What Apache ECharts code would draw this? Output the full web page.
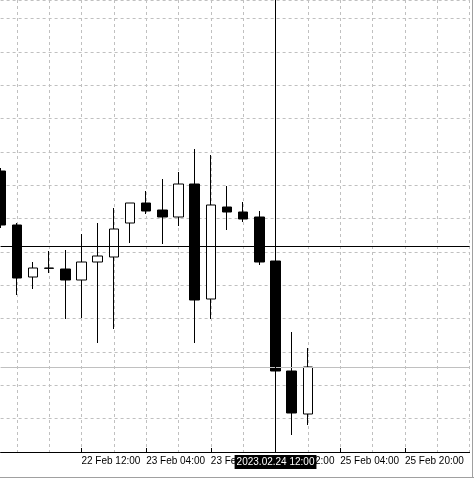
<!DOCTYPE html>
<html><head><meta charset="utf-8">
<script src="https://cdn.jsdelivr.net/npm/echarts@6/dist/echarts.min.js"></script>
<style>html,body{margin:0;padding:0;background:#fff}#c{width:474px;height:482px}</style>
</head><body><div id="c"></div>
<script>
// categories: 4-hour bars starting 21 Feb 16:00 2023 (index 0)
const months = ['Jan','Feb','Mar'];
const categories = [];
for (let k = 0; k < 30; k++) {
  const d = new Date(Date.UTC(2023, 1, 21, 16, 0) + k * 4 * 3600 * 1000);
  const hh = String(d.getUTCHours()).padStart(2, '0');
  categories.push(d.getUTCDate() + ' ' + months[d.getUTCMonth()] + ' ' + hh + ':00');
}
// [open, close, low, high]
const ohlc = [
  [84.3, 68.1, 67.2, 85.2],
  [68.1, 52.2, 47.1, 68.7],
  [52.5, 55.2, 48.9, 57.0],
  [55.2, 55.1, 53.7, 60.3],
  [54.9, 51.6, 39.9, 60.6],
  [51.6, 57.0, 40.2, 65.4],
  [57.0, 58.8, 32.7, 68.7],
  [58.5, 66.9, 36.9, 73.2],
  [68.7, 74.7, 62.7, 74.7],
  [74.7, 72.3, 71.4, 78.3],
  [72.6, 70.5, 62.4, 81.9],
  [70.5, 80.4, 67.8, 84.0],
  [80.4, 45.6, 32.7, 90.9],
  [45.9, 74.1, 39.9, 89.1],
  [73.5, 72.0, 66.6, 79.8],
  [72.0, 69.9, 69.0, 75.0],
  [70.5, 57.0, 56.1, 72.3],
  [57.3, 24.3, 21.6, 57.3],
  [24.3, 11.7, 5.1, 36.0],
  [11.4, 25.5, 8.1, 31.2]
];
const crossPrice = 61.8;
const levelPrice = 25.5;
const crossIndex = 17;
const crossLabel = '2023.02.24 12:00';

const data = ohlc.slice();
while (data.length < categories.length) data.push('-');

const chart = echarts.init(document.getElementById('c'));
const dash = {color: '#c0c0c0', type: [3, 3], width: 1};
chart.setOption({
  animation: false,
  backgroundColor: '#fff',
  grid: {left: 0.6, right: 4.4, top: 0, bottom: 30, containLabel: false},
  xAxis: {
    type: 'category', data: categories, boundaryGap: false,
    axisLine: {lineStyle: {color: '#000'}},
    axisTick: {interval: (i) => i % 4 === 1, length: 4, inside: true, lineStyle: {color: '#000'}},
    axisLabel: {interval: (i) => i % 4 === 1, align: 'left', margin: 4, showMinLabel: false, showMaxLabel: false,
      fontFamily: 'Liberation Sans', fontSize: 10, color: '#000'},
    splitLine: {show: true, interval: (i) => i % 2 === 1, lineStyle: dash},
    axisPointer: {show: true, value: crossIndex, status: 'show', type: 'line',
      triggerTooltip: false,
      lineStyle: {color: '#000', width: 1, type: 'solid'},
      label: {show: true, formatter: () => crossLabel, backgroundColor: '#000', color: '#fff',
        fontFamily: 'Liberation Sans', fontSize: 10, padding: [2, 2], margin: 3, borderRadius: 0}}
  },
  yAxis: {
    type: 'value', min: 0, max: 135.6, interval: 10,
    axisLine: {show: false}, axisTick: {show: false}, axisLabel: {show: false},
    splitLine: {show: true, lineStyle: dash}
  },
  series: [{
    type: 'candlestick', data: data, barWidth: 10,
    itemStyle: {color: '#fff', color0: '#000', borderColor: '#000', borderColor0: '#000', borderWidth: 1},
    markLine: {
      symbol: 'none', silent: true, label: {show: false},
      data: [
        {yAxis: levelPrice, lineStyle: {color: '#c0c0c0', type: 'solid', width: 1}},
        {yAxis: crossPrice, lineStyle: {color: '#000', type: 'solid', width: 1}}
      ]
    }
  }],
  graphic: [
    {type: 'line', shape: {x1: 0, y1: 477.5, x2: 474, y2: 477.5}, style: {stroke: '#a0a0a0', lineWidth: 1}},
    {type: 'line', shape: {x1: 472.5, y1: 0, x2: 472.5, y2: 478}, style: {stroke: '#a0a0a0', lineWidth: 1}}
  ]
});
</script></body></html>
